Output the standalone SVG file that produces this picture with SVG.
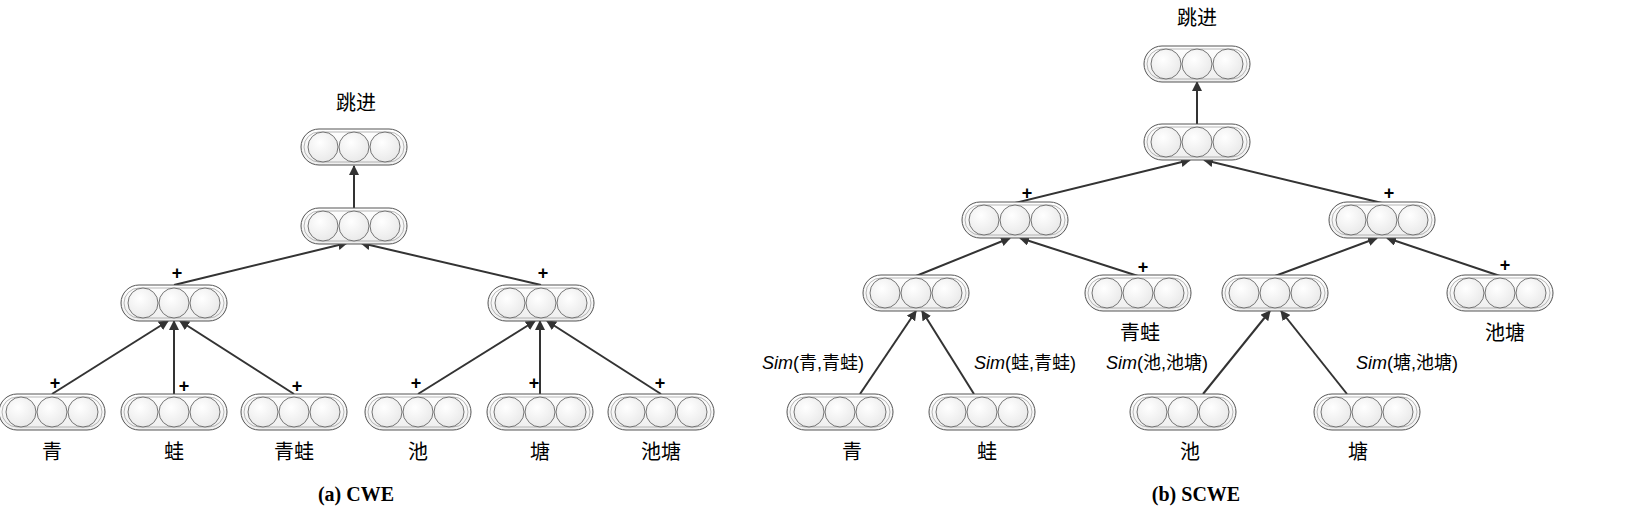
<svg xmlns="http://www.w3.org/2000/svg" width="1630" height="530" viewBox="0 0 1630 530">
<style>
.cap{font-family:"Liberation Serif",serif;font-weight:bold;font-size:20px;text-anchor:middle}
.lb{font-family:"Noto Sans CJK SC",sans-serif;font-size:20px;text-anchor:middle}
.pl{font-family:"Liberation Sans",sans-serif;font-size:18px;font-weight:bold;text-anchor:middle}
.sim{font-family:"Liberation Sans","Noto Sans CJK SC",sans-serif;font-size:18px;text-anchor:middle}
.e{stroke:#333;stroke-width:2;fill:none;marker-end:url(#a)}
</style>
<defs>
<linearGradient id="g" x1="0" y1="0" x2="0" y2="1"><stop offset="0" stop-color="#fff"/><stop offset="1" stop-color="#eee"/></linearGradient>
<radialGradient id="c" cx="0.4" cy="0.35" r="0.7"><stop offset="0" stop-color="#fff"/><stop offset="1" stop-color="#e8e8e8"/></radialGradient>
<marker id="a" markerWidth="10" markerHeight="10" refX="9" refY="5" orient="auto" markerUnits="userSpaceOnUse"><path d="M0,0L10,5L0,10z" fill="#333"/></marker>
<g id="n">
<rect x="-53" y="-18" width="106" height="36" rx="18" fill="url(#g)" stroke="#555" stroke-width="1"/>
<rect x="-50" y="-15" width="100" height="30" rx="15" fill="none" stroke="#999" stroke-width="0.7"/>
<circle cx="-31" cy="0" r="15" fill="url(#c)" stroke="#666" stroke-width="0.9"/>
<circle cx="0" cy="0" r="15" fill="url(#c)" stroke="#666" stroke-width="0.9"/>
<circle cx="31" cy="0" r="15" fill="url(#c)" stroke="#666" stroke-width="0.9"/>
</g>
</defs>
<g id="edges">
<path class="e" d="M354,208V166"/>
<path class="e" d="M174,285L347,243"/><path class="e" d="M541,285L361,243"/>
<path class="e" d="M52,394L168,321"/><path class="e" d="M174,394V321"/><path class="e" d="M294,394L180,321"/>
<path class="e" d="M418,394L535,321"/><path class="e" d="M540,394V321"/><path class="e" d="M661,394L547,321"/>
<path class="e" d="M1197,125V82"/>
<path class="e" d="M1015,203L1190,160"/><path class="e" d="M1382,203L1204,160"/>
<path class="e" d="M916,276L1010,238"/><path class="e" d="M1138,276L1020,238"/>
<path class="e" d="M1275,276L1377,238"/><path class="e" d="M1500,276L1387,238"/>
<path class="e" d="M860,394L916,311"/><path class="e" d="M974,394L922,311"/>
<path class="e" d="M1203,394L1270,311"/><path class="e" d="M1347,394L1281,311"/>
</g>
<g id="nodes">
<use id="a_top" href="#n" x="354" y="147"/><use id="a_mid" href="#n" x="354" y="226"/>
<use id="a_l" href="#n" x="174" y="303"/><use id="a_r" href="#n" x="541" y="303"/>
<use id="a1" href="#n" x="52" y="412"/><use id="a2" href="#n" x="174" y="412"/><use id="a3" href="#n" x="294" y="412"/>
<use id="a4" href="#n" x="418" y="412"/><use id="a5" href="#n" x="540" y="412"/><use id="a6" href="#n" x="661" y="412"/>
<use id="b_top" href="#n" x="1197" y="64"/><use id="b_mid" href="#n" x="1197" y="142"/>
<use id="b_l" href="#n" x="1015" y="220"/><use id="b_r" href="#n" x="1382" y="220"/>
<use id="b_ll" href="#n" x="916" y="293"/><use id="b_lr" href="#n" x="1138" y="293"/>
<use id="b_rl" href="#n" x="1275" y="293"/><use id="b_rr" href="#n" x="1500" y="293"/>
<use id="b1" href="#n" x="840" y="412"/><use id="b2" href="#n" x="982" y="412"/>
<use id="b3" href="#n" x="1183" y="412"/><use id="b4" href="#n" x="1367" y="412"/>
</g>
<g id="labels">
<text class="lb" x="356" y="110">跳进</text><text class="lb" x="1197" y="25">跳进</text>
<text class="lb" x="52" y="459">青</text><text class="lb" x="174" y="459">蛙</text><text class="lb" x="294" y="459">青蛙</text>
<text class="lb" x="418" y="459">池</text><text class="lb" x="540" y="459">塘</text><text class="lb" x="661" y="459">池塘</text>
<text class="lb" x="1140" y="340">青蛙</text><text class="lb" x="1505" y="340">池塘</text>
<text class="lb" x="852" y="459">青</text><text class="lb" x="987" y="459">蛙</text><text class="lb" x="1190" y="459">池</text><text class="lb" x="1358" y="459">塘</text>
<text class="pl" x="177" y="279">+</text><text class="pl" x="543" y="279">+</text>
<text class="pl" x="55" y="389">+</text><text class="pl" x="184" y="392">+</text><text class="pl" x="297" y="392">+</text>
<text class="pl" x="416" y="389">+</text><text class="pl" x="534" y="389">+</text><text class="pl" x="660" y="389">+</text>
<text class="pl" x="1027" y="199">+</text><text class="pl" x="1389" y="199">+</text><text class="pl" x="1143" y="273">+</text><text class="pl" x="1505" y="271">+</text>
<text class="sim" x="813" y="369"><tspan font-style="italic">Sim</tspan>(青,青蛙)</text>
<text class="sim" x="1025" y="369"><tspan font-style="italic">Sim</tspan>(蛙,青蛙)</text>
<text class="sim" x="1157" y="369"><tspan font-style="italic">Sim</tspan>(池,池塘)</text>
<text class="sim" x="1407" y="369"><tspan font-style="italic">Sim</tspan>(塘,池塘)</text>
<text class="cap" x="356" y="501">(a) CWE</text><text class="cap" x="1196" y="501">(b) SCWE</text>
</g>
</svg>
